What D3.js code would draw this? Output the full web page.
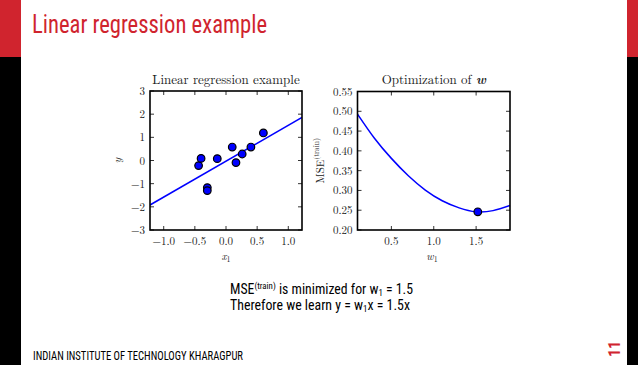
<!DOCTYPE html>
<html>
<head>
<meta charset="utf-8">
<script src="https://cdn.jsdelivr.net/npm/d3@7"></script>
<style>
  body { margin: 0; background: #fff; }
  svg { display: block; }
  .serif { font-family: "Latin Modern Roman", "DejaVu Serif", "Liberation Serif", serif; }
  .narrow { font-family: "Liberation Sans Narrow", "Roboto Condensed", "Liberation Sans", sans-serif; }
</style>
</head>
<body>
<svg id="slide" width="638" height="365"></svg>
<script>
// REGRESSION DATA
var pointsX = [-0.44, -0.40, -0.14, -0.30, -0.30, 0.10, 0.16, 0.26, 0.40, 0.60];
var pointsY = [-0.22, 0.09, 0.08, -1.17, -1.30, 0.58, -0.09, 0.28, 0.58, 1.19];
var fitX = [-1.22, 1.22];
var fitY = [-1.92, 1.86];

// MSE CURVE
var curveW = [0.1, 0.3, 0.5, 0.7, 0.9, 1.1, 1.3, 1.5, 1.7, 1.9];
var curveMSE = [0.493, 0.432, 0.381, 0.337, 0.301, 0.274, 0.256, 0.246, 0.249, 0.262];
var bestW = [1.52];
var bestMSE = [0.246];

// TICKS
var leftXTicks = [-1.0, -0.5, 0.0, 0.5, 1.0];
var leftYTicks = [-3, -2, -1, 0, 1, 2, 3];
var rightXTicks = [0.5, 1.0, 1.5];
var rightYTicks = [0.20, 0.25, 0.30, 0.35, 0.40, 0.45, 0.50, 0.55];

var red = '#d0242e';
var svg = d3.select('#slide');

// SLIDE FRAME
svg.append('rect').attr('x', 0).attr('y', 0).attr('width', 21).attr('height', 57).attr('fill', red);
svg.append('rect').attr('x', 0).attr('y', 57).attr('width', 21).attr('height', 308).attr('fill', '#000');
svg.append('rect').attr('x', 627).attr('y', 0).attr('width', 11).attr('height', 57).attr('fill', red);
svg.append('rect').attr('x', 627).attr('y', 57).attr('width', 11).attr('height', 308).attr('fill', '#000');

svg.append('text').attr('class', 'narrow')
   .attr('x', 32).attr('y', 33)
   .attr('font-size', 25).attr('fill', red)
   .attr('textLength', 235).attr('lengthAdjust', 'spacingAndGlyphs')
   .text('Linear regression example');

// MINUS SIGN FORMAT
function fmt(d, digits) {
   var s = d3.format('.' + digits + 'f')(Math.abs(d));
   return (d < 0 ? '\u2212' : '') + s;
}

// DRAW ONE AXES BOX WITH INWARD TICKS ON ALL SIDES
function axesBox(box, xScale, yScale, xTicks, yTicks, xDigits, yDigits) {
   var g = svg.append('g');
   var tick = 4;

   xTicks.forEach(function (t) {
      var x = xScale(t);
      g.append('line').attr('x1', x).attr('x2', x).attr('y1', box.bottom).attr('y2', box.bottom - tick)
         .attr('stroke', '#000').attr('stroke-width', 0.8);
      g.append('line').attr('x1', x).attr('x2', x).attr('y1', box.top).attr('y2', box.top + tick)
         .attr('stroke', '#000').attr('stroke-width', 0.8);
      g.append('text').attr('class', 'serif')
         .attr('x', x).attr('y', box.bottom + 15)
         .attr('text-anchor', 'middle').attr('font-size', 11).attr('fill', '#222')
         .text(fmt(t, xDigits));
   });

   yTicks.forEach(function (t) {
      var y = yScale(t);
      g.append('line').attr('y1', y).attr('y2', y).attr('x1', box.left).attr('x2', box.left + tick)
         .attr('stroke', '#000').attr('stroke-width', 0.8);
      g.append('line').attr('y1', y).attr('y2', y).attr('x1', box.right).attr('x2', box.right - tick)
         .attr('stroke', '#000').attr('stroke-width', 0.8);
      g.append('text').attr('class', 'serif')
         .attr('x', box.left - 5).attr('y', y + 4)
         .attr('text-anchor', 'end').attr('font-size', 11).attr('fill', '#222')
         .text(fmt(t, yDigits));
   });

   return g;
}

function frame(box) {
   svg.append('rect')
      .attr('x', box.left).attr('y', box.top)
      .attr('width', box.right - box.left).attr('height', box.bottom - box.top)
      .attr('fill', 'none').attr('stroke', '#000').attr('stroke-width', 1.6);
}

// LEFT PLOT
var boxL = { left: 150, right: 302, top: 91, bottom: 230 };
var xL = d3.scaleLinear().domain([-1.22, 1.22]).range([boxL.left, boxL.right]);
var yL = d3.scaleLinear().domain([-3, 3]).range([boxL.bottom, boxL.top]);

axesBox(boxL, xL, yL, leftXTicks, leftYTicks, 1, 0);

svg.append('defs').append('clipPath').attr('id', 'clipL').append('rect')
   .attr('x', boxL.left).attr('y', boxL.top)
   .attr('width', boxL.right - boxL.left).attr('height', boxL.bottom - boxL.top);

var fitLine = d3.line()
   .x(function (d, i) { return xL(fitX[i]); })
   .y(function (d) { return yL(d); });

svg.append('path')
   .attr('d', fitLine(fitY))
   .attr('fill', 'none').attr('stroke', '#0000ff').attr('stroke-width', 1.5)
   .attr('clip-path', 'url(#clipL)');

svg.selectAll('circle.pt')
   .data(pointsY)
   .enter().append('circle')
      .attr('class', 'pt')
      .attr('cx', function (d, i) { return xL(pointsX[i]); })
      .attr('cy', function (d) { return yL(d); })
      .attr('r', 3.8)
      .attr('fill', '#0000ff').attr('stroke', '#000').attr('stroke-width', 1.2);

frame(boxL);

svg.append('text').attr('class', 'serif')
   .attr('x', (boxL.left + boxL.right) / 2).attr('y', 84)
   .attr('text-anchor', 'middle').attr('font-size', 13).attr('fill', '#222')
   .text('Linear regression example');

svg.append('text').attr('class', 'serif')
   .attr('transform', 'translate(121,' + ((boxL.top + boxL.bottom) / 2) + ') rotate(-90)')
   .attr('text-anchor', 'middle').attr('font-size', 11).attr('font-style', 'italic').attr('fill', '#222')
   .text('y');

var xlab = svg.append('text').attr('class', 'serif')
   .attr('x', 226).attr('y', 260)
   .attr('text-anchor', 'middle').attr('font-size', 11).attr('fill', '#222');
xlab.append('tspan').attr('font-style', 'italic').text('x');
xlab.append('tspan').attr('font-size', 8).attr('dy', 2).text('1');

// RIGHT PLOT
var boxR = { left: 357.5, right: 510, top: 91.5, bottom: 230 };
var xR = d3.scaleLinear().domain([0.1, 1.9]).range([boxR.left, boxR.right]);
var yR = d3.scaleLinear().domain([0.20, 0.55]).range([boxR.bottom, boxR.top]);

axesBox(boxR, xR, yR, rightXTicks, rightYTicks, 1, 2);

var mseLine = d3.line()
   .x(function (d, i) { return xR(curveW[i]); })
   .y(function (d) { return yR(d); })
   .curve(d3.curveNatural);

svg.append('path')
   .attr('d', mseLine(curveMSE))
   .attr('fill', 'none').attr('stroke', '#0000ff').attr('stroke-width', 1.5);

svg.selectAll('circle.best')
   .data(bestMSE)
   .enter().append('circle')
      .attr('class', 'best')
      .attr('cx', function (d, i) { return xR(bestW[i]); })
      .attr('cy', function (d) { return yR(d); })
      .attr('r', 3.8)
      .attr('fill', '#0000ff').attr('stroke', '#000').attr('stroke-width', 1.2);

frame(boxR);

var tR = svg.append('text').attr('class', 'serif')
   .attr('x', (boxR.left + boxR.right) / 2).attr('y', 84)
   .attr('text-anchor', 'middle').attr('font-size', 13).attr('fill', '#222');
tR.append('tspan').text('Optimization of ');
tR.append('tspan').attr('font-weight', 'bold').attr('font-style', 'italic').text('w');

var mseLab = svg.append('text').attr('class', 'serif')
   .attr('transform', 'translate(324,' + ((boxR.top + boxR.bottom) / 2) + ') rotate(-90)')
   .attr('text-anchor', 'middle').attr('font-size', 11).attr('fill', '#222');
mseLab.append('tspan').text('MSE');
mseLab.append('tspan').attr('font-size', 7.5).attr('dy', -5).text('(train)');

var wlab = svg.append('text').attr('class', 'serif')
   .attr('x', 432).attr('y', 260)
   .attr('text-anchor', 'middle').attr('font-size', 11).attr('fill', '#222');
wlab.append('tspan').attr('font-style', 'italic').text('w');
wlab.append('tspan').attr('font-size', 8).attr('dy', 2).text('1');

// CAPTION
var c1 = svg.append('text').attr('class', 'narrow')
   .attr('x', 230).attr('y', 294).attr('font-size', 14).attr('fill', '#000')
   .attr('textLength', 183).attr('lengthAdjust', 'spacingAndGlyphs');
c1.append('tspan').text('MSE');
c1.append('tspan').attr('font-size', 9).attr('dy', -5).text('(train)');
c1.append('tspan').attr('dy', 5).text(' is minimized for w');
c1.append('tspan').attr('font-size', 9).attr('dy', 2).text('1');
c1.append('tspan').attr('dy', -2).text(' = 1.5');

var c2 = svg.append('text').attr('class', 'narrow')
   .attr('x', 230).attr('y', 310).attr('font-size', 14).attr('fill', '#000')
   .attr('textLength', 180).attr('lengthAdjust', 'spacingAndGlyphs');
c2.append('tspan').text('Therefore we learn y = w');
c2.append('tspan').attr('font-size', 9).attr('dy', 2).text('1');
c2.append('tspan').attr('dy', -2).text('x = 1.5x');

// FOOTER
svg.append('text').attr('class', 'narrow')
   .attr('x', 33).attr('y', 360).attr('font-size', 12).attr('fill', '#000')
   .attr('textLength', 210).attr('lengthAdjust', 'spacingAndGlyphs')
   .text('INDIAN INSTITUTE OF TECHNOLOGY KHARAGPUR');

svg.append('text').attr('class', 'narrow')
   .attr('transform', 'translate(620,349) rotate(-90)')
   .attr('text-anchor', 'middle').attr('font-size', 16).attr('font-weight', 'bold').attr('fill', red)
   .text('11');
</script>
</body>
</html>
